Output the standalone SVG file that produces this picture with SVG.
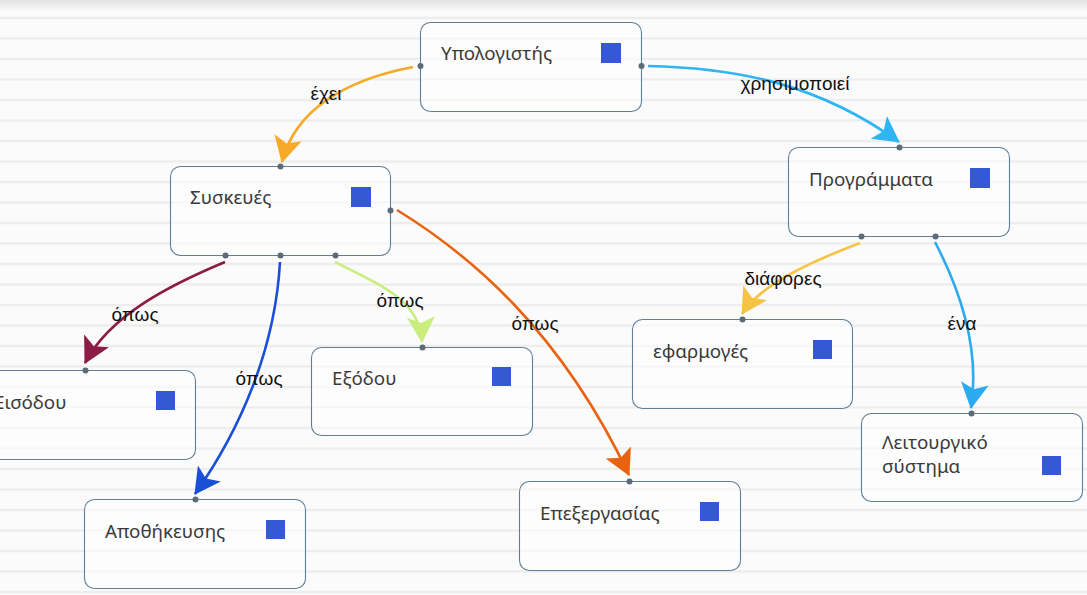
<svg xmlns="http://www.w3.org/2000/svg" width="1087" height="595" viewBox="0 0 1087 595">
<style>
.bx{fill:#ffffff;fill-opacity:0.55;stroke:#5f7e99;stroke-width:1.1}
.nt{font-family:"Noto Sans","Open Sans",sans-serif;font-size:18.8px;fill:#3a3a3a}
.sq{fill:#3458d6}
.dot{fill:#5c6b7a}
.lb{font-family:"Liberation Sans",Arial,sans-serif;font-size:19px;fill:#111;text-anchor:middle}
.c{fill:none;stroke-width:2.6}
</style>
<defs>
<pattern id="lines" x="0" y="8" width="1087" height="20.5" patternUnits="userSpaceOnUse">
<rect x="0" y="0" width="1087" height="20.5" fill="#fbfbfb"/>
<rect x="0" y="9" width="1087" height="2" fill="#ebebeb"/>
</pattern>
<linearGradient id="topsh" x1="0" y1="0" x2="0" y2="1">
<stop offset="0" stop-color="#e2e2e2"/>
<stop offset="1" stop-color="#e2e2e2" stop-opacity="0"/>
</linearGradient>
<marker id="m1" viewBox="0 0 26 28" refX="25" refY="14" markerWidth="26" markerHeight="28" markerUnits="userSpaceOnUse" orient="auto"><path d="M0,0 L26,14 L0,28 L6,14 z" fill="#f7aa28"/></marker>
<marker id="m2" viewBox="0 0 26 28" refX="25" refY="14" markerWidth="26" markerHeight="28" markerUnits="userSpaceOnUse" orient="auto"><path d="M0,0 L26,14 L0,28 L6,14 z" fill="#2fb5f3"/></marker>
<marker id="m3" viewBox="0 0 26 28" refX="25" refY="14" markerWidth="26" markerHeight="28" markerUnits="userSpaceOnUse" orient="auto"><path d="M0,0 L26,14 L0,28 L6,14 z" fill="#8c1c45"/></marker>
<marker id="m4" viewBox="0 0 26 28" refX="25" refY="14" markerWidth="26" markerHeight="28" markerUnits="userSpaceOnUse" orient="auto"><path d="M0,0 L26,14 L0,28 L6,14 z" fill="#1a4fd6"/></marker>
<marker id="m5" viewBox="0 0 26 28" refX="25" refY="14" markerWidth="26" markerHeight="28" markerUnits="userSpaceOnUse" orient="auto"><path d="M0,0 L26,14 L0,28 L6,14 z" fill="#c9ee7d"/></marker>
<marker id="m6" viewBox="0 0 26 28" refX="25" refY="14" markerWidth="26" markerHeight="28" markerUnits="userSpaceOnUse" orient="auto"><path d="M0,0 L26,14 L0,28 L6,14 z" fill="#e8630f"/></marker>
<marker id="m7" viewBox="0 0 26 28" refX="25" refY="14" markerWidth="26" markerHeight="28" markerUnits="userSpaceOnUse" orient="auto"><path d="M0,0 L26,14 L0,28 L6,14 z" fill="#f6c346"/></marker>
<marker id="m8" viewBox="0 0 26 28" refX="25" refY="14" markerWidth="26" markerHeight="28" markerUnits="userSpaceOnUse" orient="auto"><path d="M0,0 L26,14 L0,28 L6,14 z" fill="#2caaf0"/></marker>
</defs>
<rect x="0" y="0" width="1087" height="595" fill="url(#lines)"/>
<rect x="0" y="0" width="1087" height="12" fill="url(#topsh)"/>

<g id="connectors">
<path class="c" stroke="#f7aa28" marker-end="url(#m1)" d="M413,67 C345,80 295,110 282,162"/>
<path class="c" stroke="#2fb5f3" marker-end="url(#m2)" d="M648,66 C740,68 820,85 899,142"/>
<path class="c" stroke="#8c1c45" marker-end="url(#m3)" d="M225,262 C170,285 110,315 85,363"/>
<path class="c" stroke="#1a4fd6" marker-end="url(#m4)" d="M280,262 C275,350 240,430 195,494"/>
<path class="c" stroke="#c9ee7d" marker-end="url(#m5)" d="M335,262 C380,285 420,300 422,342"/>
<path class="c" stroke="#e8630f" marker-end="url(#m6)" d="M397,210 C470,255 560,330 629,475"/>
<path class="c" stroke="#f6c346" marker-end="url(#m7)" d="M860,243 C810,262 760,285 742,314"/>
<path class="c" stroke="#2caaf0" marker-end="url(#m8)" d="M935,242 C960,290 980,350 971,408"/>
<text class="lb" x="326" y="100">έχει</text>
<text class="lb" x="795" y="90">χρησιμοποιεί</text>
<text class="lb" x="135" y="321">όπως</text>
<text class="lb" x="259" y="385">όπως</text>
<text class="lb" x="400" y="307">όπως</text>
<text class="lb" x="535" y="330">όπως</text>
<text class="lb" x="783" y="285">διάφορες</text>
<text class="lb" x="962" y="330">ένα</text>
</g>

<g id="n-ypologistis">
<rect class="bx" x="420.5" y="22.5" width="221" height="89" rx="10"/>
<text class="nt" x="441" y="60">Υπολογιστής</text>
<rect class="sq" x="601" y="43" width="20" height="20"/>
<circle class="dot" cx="420.5" cy="66" r="3"/><circle class="dot" cx="641.5" cy="66" r="3"/>
</g>
<g id="n-syskeves">
<rect class="bx" x="170.5" y="166.5" width="220" height="89" rx="10"/>
<text class="nt" x="190" y="204">Συσκευές</text>
<rect class="sq" x="351" y="187" width="20" height="20"/>
<circle class="dot" cx="280.5" cy="166.5" r="3"/><circle class="dot" cx="390.5" cy="210.5" r="3"/>
<circle class="dot" cx="225.5" cy="255.5" r="3"/><circle class="dot" cx="280.5" cy="255.5" r="3"/><circle class="dot" cx="335.5" cy="255.5" r="3"/>
</g>
<g id="n-programmata">
<rect class="bx" x="788.5" y="147.5" width="221" height="89" rx="10"/>
<text class="nt" x="809" y="186">Προγράμματα</text>
<rect class="sq" x="970" y="168" width="20" height="20"/>
<circle class="dot" cx="899.5" cy="147.5" r="3"/>
<circle class="dot" cx="861.5" cy="236.5" r="3"/><circle class="dot" cx="935.5" cy="236.5" r="3"/>
</g>
<g id="n-eisodou">
<rect class="bx" x="-26.5" y="370.5" width="222" height="89" rx="10"/>
<text class="nt" x="-6" y="409">Εισόδου</text>
<rect class="sq" x="156" y="391" width="19" height="19"/>
<circle class="dot" cx="85.5" cy="370.5" r="3"/>
</g>
<g id="n-apothikeusis">
<rect class="bx" x="84.5" y="499.5" width="221" height="89" rx="10"/>
<text class="nt" x="105" y="538">Αποθήκευσης</text>
<rect class="sq" x="266" y="520" width="19" height="19"/>
<circle class="dot" cx="195.5" cy="499.5" r="3"/>
</g>
<g id="n-exodou">
<rect class="bx" x="311.5" y="347.5" width="221" height="88" rx="10"/>
<text class="nt" x="332" y="385">Εξόδου</text>
<rect class="sq" x="492" y="367" width="19" height="19"/>
<circle class="dot" cx="422.5" cy="347.5" r="3"/>
</g>
<g id="n-epexergasias">
<rect class="bx" x="519.5" y="481.5" width="221" height="89" rx="10"/>
<text class="nt" x="540" y="520">Επεξεργασίας</text>
<rect class="sq" x="700" y="502" width="19" height="19"/>
<circle class="dot" cx="629.5" cy="481.5" r="3"/>
</g>
<g id="n-efarmoges">
<rect class="bx" x="632.5" y="319.5" width="220" height="89" rx="10"/>
<text class="nt" x="653" y="358">εφαρμογές</text>
<rect class="sq" x="813" y="340" width="19" height="19"/>
<circle class="dot" cx="742.5" cy="319.5" r="3"/>
</g>
<g id="n-leitourgiko">
<rect class="bx" x="861.5" y="413.5" width="221" height="88" rx="10"/>
<text class="nt" x="882" y="449"><tspan x="882" y="449">Λειτουργικό</tspan><tspan x="882" y="473">σύστημα</tspan></text>
<rect class="sq" x="1042" y="456" width="19" height="19"/>
<circle class="dot" cx="971.5" cy="413.5" r="3"/>
</g>
</svg>
